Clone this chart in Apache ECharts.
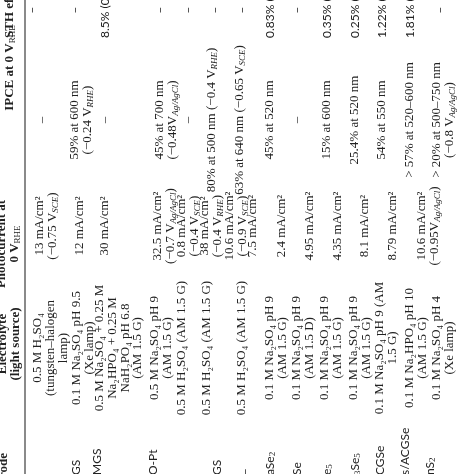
<!DOCTYPE html>
<html><head><meta charset="utf-8">
<script src="https://cdn.jsdelivr.net/npm/echarts@6/dist/echarts.min.js"></script>
<style>html,body{margin:0;padding:0;background:#fff}#c{width:474px;height:474px}</style>
</head><body><div id="c"></div>
<script>
// Table data (rows of the original, which is shown rotated 90°)
const headers = {
  electrode: ["Electrode"],
  electrolyte: ["Electrolyte", "(light source)"],
  photocurrent: ["Photocurrent at", "0 V{s|RHE}"],
  ipce: ["IPCE at 0 V{s|RHE}"],
  sth: ["STH efficiency"]
};
const electrodes = [[""],["GS"],["MGS"],["O-Pt"],[""],["GS"],["–"],["aSe{s|2}"],["Se"],["e{s|5}"],["{s|3}Se{s|5}"],["CGSe"],["s/ACGSe"],["nS{s|2}"]];
const electrolytes = [
  ["0.5 M H₂SO₄","(tungsten–halogen","lamp)"],
  ["0.1 M Na₂SO₄ pH 9.5","(Xe lamp)"],
  ["0.5 M Na₂SO₄ + 0.25 M","Na₂HPO₄ + 0.25 M","NaH₂PO₄ pH 6.8","(AM 1.5 G)"],
  ["0.5 M Na₂SO₄ pH 9","(AM 1.5 G)"],
  ["0.5 M H₂SO₄ (AM 1.5 G)"],
  ["0.5 M H₂SO₄ (AM 1.5 G)"],
  ["0.5 M H₂SO₄ (AM 1.5 G)"],
  ["0.1 M Na₂SO₄ pH 9","(AM 1.5 G)"],
  ["0.1 M Na₂SO₄ pH 9","(AM 1.5 D)"],
  ["0.1 M Na₂SO₄ pH 9","(AM 1.5 G)"],
  ["0.1 M Na₂SO₄ pH 9","(AM 1.5 G)"],
  ["0.1 M Na₂SO₄ pH 9 (AM","1.5 G)"],
  ["0.1 M Na₂HPO₄ pH 10","(AM 1.5 G)"],
  ["0.1 M Na₂SO₄ pH 4","(Xe lamp)"]
];
const photocurrents = [
  ["13 mA/cm²","(−0.75 V{si|SCE})"],["12 mA/cm²"],["30 mA/cm²"],
  ["32.5 mA/cm²","(−0.7 V{si|Ag/AgCl})"],["0.8 mA/cm²","(−0.4 V{si|SCE})"],
  ["38 mA/cm²","(−0.4 V{si|RHE})"],["10.6 mA/cm²","(−0.9 V{si|SCE})"],["7.5 mA/cm²"],
  ["2.4 mA/cm²"],["4.95 mA/cm²"],["4.35 mA/cm²"],["8.1 mA/cm²"],["8.79 mA/cm²"],
  ["10.6 mA/cm²","(−0.95V{si|Ag/AgCl})"]
];
const ipce = [
  ["–"],["59% at 600 nm","(−0.24 V{si|RHE})"],["–"],["45% at 700 nm","(−0.48V{si|Ag/AgCl})"],["–"],
  ["80% at 500 nm (−0.4 V{si|RHE})"],["63% at 640 nm (−0.65 V{si|SCE})"],["45% at 520 nm"],["–"],
  ["15% at 600 nm"],["25.4% at 520 nm"],["54% at 550 nm"],["> 57% at 520–600 nm"],
  ["> 20% at 500–750 nm","(−0.8 V{si|Ag/AgCl})"]
];
const sth = [["–"],["–"],["8.5% (0.3 V)"],["–"],["–"],["–"],["–"],["0.83% (0.3 V)"],["–"],["0.35% (0.3 V)"],["0.25% (0.3 V)"],["1.22% (0.3 V)"],["1.81% (0.3 V)"],["–"]];

// layout (screen x of first line of each row, per column)
const rowXElectrode = [40,76,97,153,190,217,245,270,297,327,355,380,405,430];
const rowXElectrolyte = [38,77,100,155,182,207,242,270,297,325,354,380,410,437];
const rowXPhoto = [40,80,105,158,182,205,230,253,282,310,338,365,393,422];
const rowXIpce = [42,75,105,160,188,212,240,270,297,327,355,382,410,437];
const rowXSth = [32,75,105,160,188,215,242,270,297,327,355,382,410,440];
const LH = 12.6;

const rich = {
  s:{fontSize:9, fontFamily:'Liberation Serif', padding:[6,0,0,0]},
  si:{fontSize:9, fontStyle:'italic', fontFamily:'Liberation Serif', padding:[6,0,0,0]}
};
const children = [];
function txt(str, u, v, align, font, bold, size){
  children.push({type:'text', x:u, y:v, style:{text:str, align:align, verticalAlign:'middle',
    fontFamily:font, fontSize:size||13, fontWeight:bold?'bold':'normal', fill:'#222', rich:rich}});
}
function col(data, xs, u, align, font, size){
  data.forEach((lines,i)=>lines.forEach((l,j)=>txt(l, u, xs[i]+j*LH, align, font, false, size)));
}
// headers
txt(headers.electrode[0], 21, 4, 'right', 'Liberation Serif', true);
headers.electrolyte.forEach((l,j)=>txt(l,130,3+j*LH,'center','Liberation Serif',true));
headers.photocurrent.forEach((l,j)=>txt(l,230,2+j*LH,'center','Liberation Serif',true));
txt(headers.ipce[0],406,10,'center','Liberation Serif',true);
txt(headers.sth[0],436,10,'left','Liberation Serif',true);
col(electrodes,rowXElectrode,-1,'left','Lato',12);
col(electrolytes,rowXElectrolyte,126,'center','Liberation Serif');
col(photocurrents,rowXPhoto,248,'center','Liberation Serif');
col(ipce,rowXIpce,354,'center','Liberation Serif');
sth.forEach((lines,i)=>lines.forEach((l,j)=>{
  if(l==='–') txt(l,464,rowXSth[i],'center','Lato',false,12);
  else txt(l,436,rowXSth[i],'left','Lato',false,12);
}));

const chart = echarts.init(document.getElementById('c'));
chart.setOption({animation:false, graphic:[
  {type:'rect', left:24, top:0, shape:{width:2, height:474}, style:{fill:'#8a8a8a'}},
  {type:'group', x:0, y:474, rotation:Math.PI/2, children:children}
]});
</script></body></html>
